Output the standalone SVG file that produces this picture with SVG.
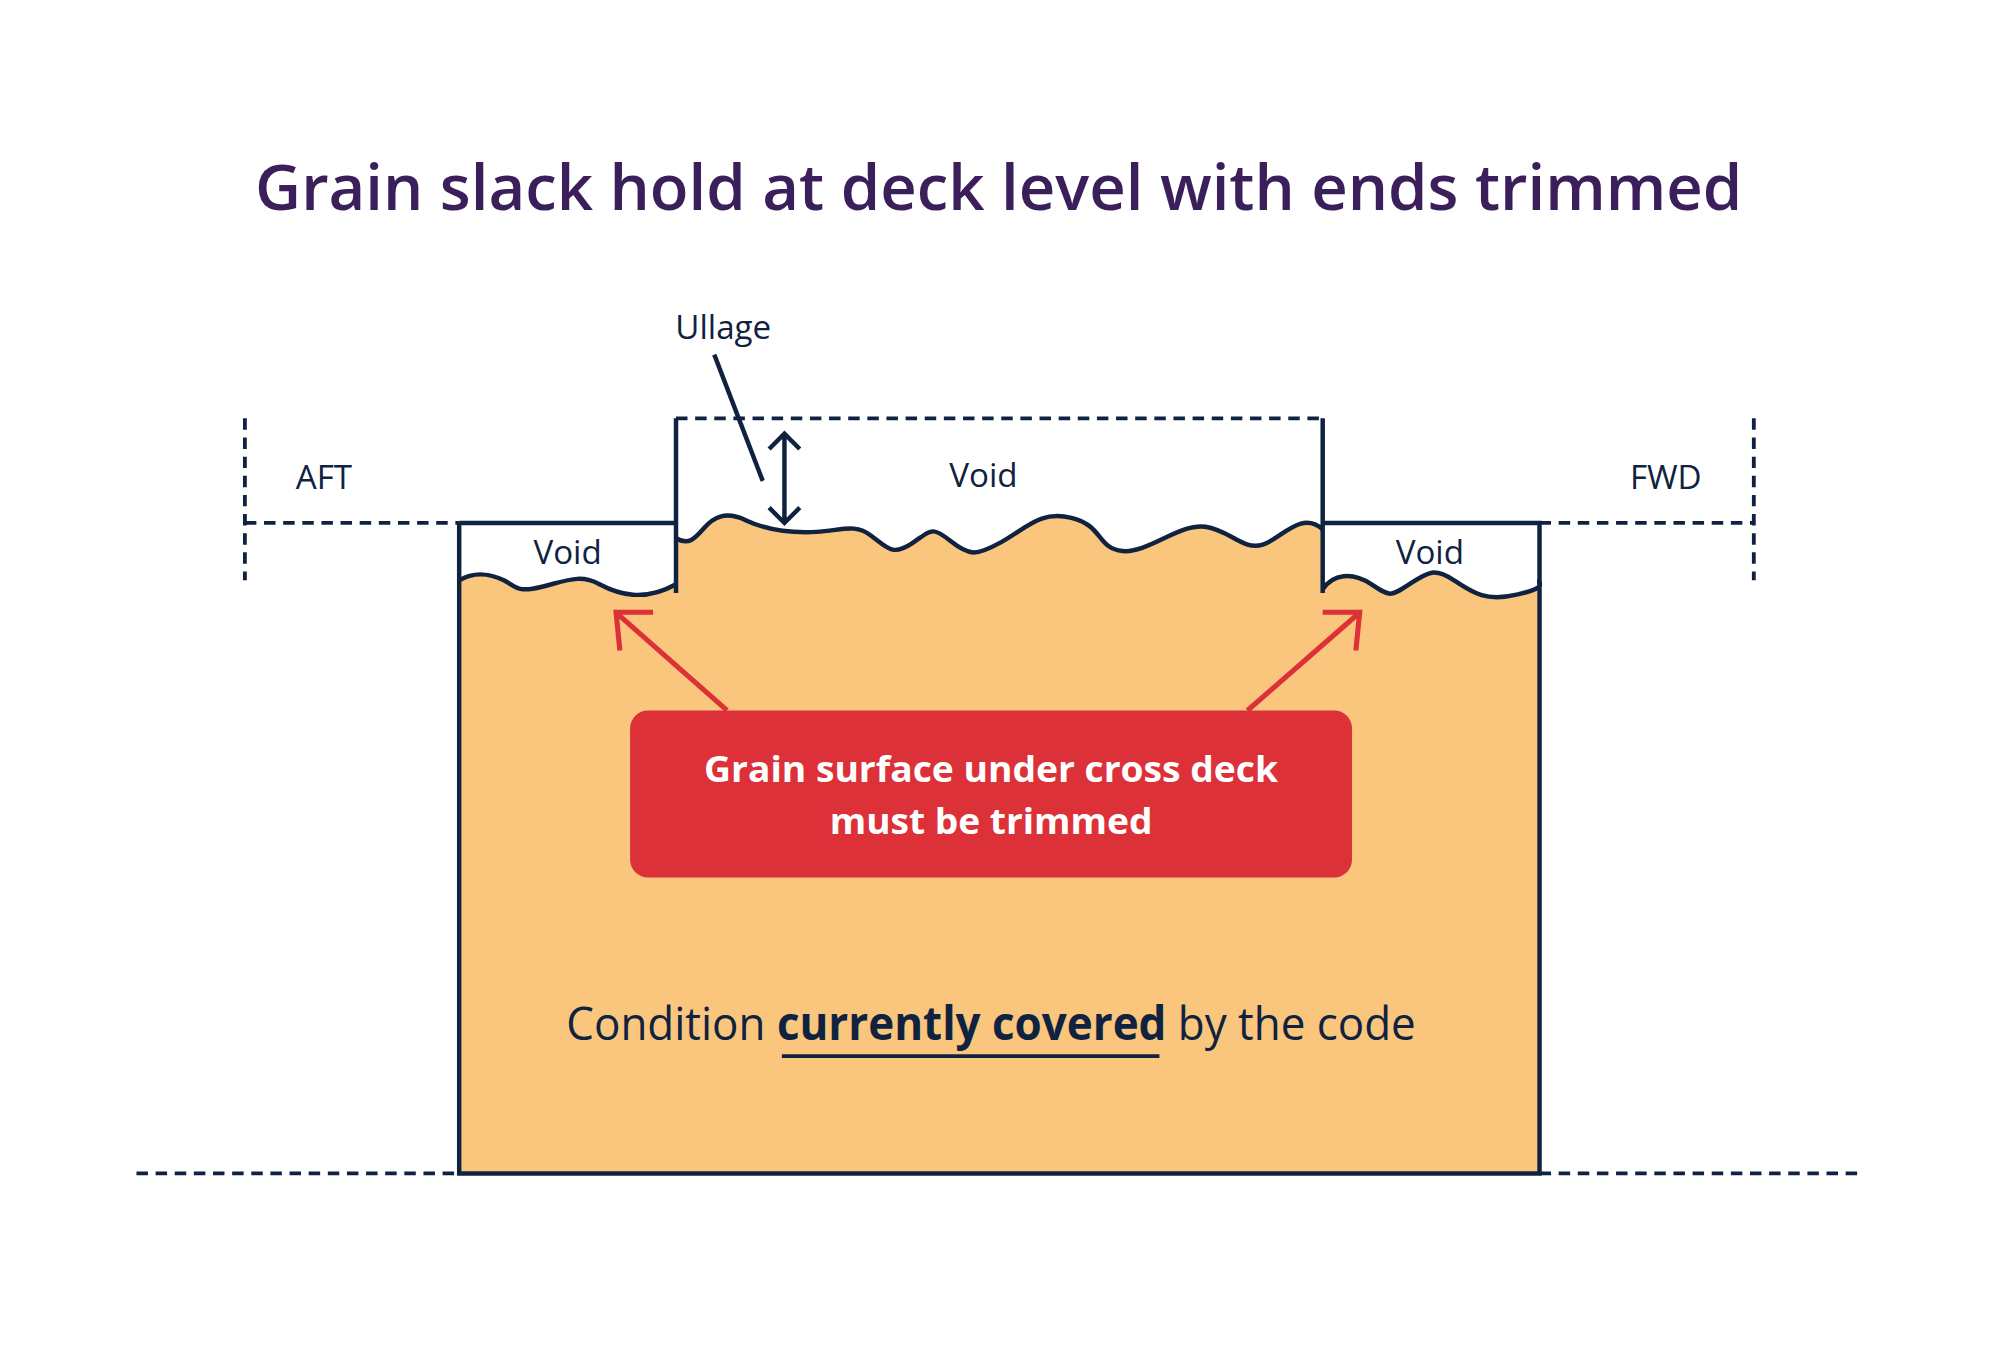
<svg xmlns="http://www.w3.org/2000/svg" width="2000" height="1363" viewBox="0 0 2000 1363">
<style>
.dk{fill:none;stroke:#0f2340;stroke-width:3.5}
.dash{fill:none;stroke:#0f2340;stroke-width:3;stroke-dasharray:9 6}
.lbl{font-family:"Open Sans","Liberation Sans",sans-serif;font-size:26px;fill:#0f2340;text-anchor:middle}
.red{fill:none;stroke:#dc3139;stroke-width:4}
</style>
<rect width="2000" height="1363" fill="#fff"/>
<g transform="scale(1.2755)">
<text x="783" y="165" font-family="Open Sans,Liberation Sans,sans-serif" font-size="50" font-weight="600" fill="#3a1f5a" text-anchor="middle" textLength="1166" lengthAdjust="spacingAndGlyphs">Grain slack hold at deck level with ends trimmed</text>
<g id="grain">
<path fill="#fac57c" d="M360,455 C372,448 385,450 395,455 S405,465 425,460 S455,450 470,458 S505,472 530,458 L530,422 C540,428 545,422 552,414 S568,400 585,408 S620,418 640,417 S670,410 683,420 S700,436 715,426 S730,412 745,424 S765,436 785,425 S815,400 840,406 S860,430 880,432 S925,410 945,413 S975,432 990,427 S1020,400 1037,415 L1037,462 C1045,450 1060,448 1075,458 S1090,468 1105,458 S1125,445 1140,455 S1165,472 1190,466 S1205,458 1207,455 L1207,920 L360,920 Z"/>
<path class="dk" d="M360,455 C372,448 385,450 395,455 S405,465 425,460 S455,450 470,458 S505,472 530,458"/>
<path class="dk" d="M530,422 C540,428 545,422 552,414 S568,400 585,408 S620,418 640,417 S670,410 683,420 S700,436 715,426 S730,412 745,424 S765,436 785,425 S815,400 840,406 S860,430 880,432 S925,410 945,413 S975,432 990,427 S1020,400 1037,415"/>
<path class="dk" d="M1037,462 C1045,450 1060,448 1075,458 S1090,468 1105,458 S1125,445 1140,455 S1165,472 1190,466 S1205,458 1207,455"/>
</g>
<g id="hold">
<path class="dk" d="M360,410 H530 M530,465 V328 M1037,328 V465 M1037,410 H1207 V920 H360 V410"/>
<path class="dash" d="M530,328 H1037"/>
<path class="dash" d="M192,410 H360 M1207,410 H1375 M192,328 V455 M1375,328 V455 M107,920 H360 M1207,920 H1462"/>
</g>
<g id="labels">
<text class="lbl" x="254" y="383">AFT</text>
<text class="lbl" x="1306" y="383">FWD</text>
<text class="lbl" x="771" y="382">Void</text>
<text class="lbl" x="445" y="442">Void</text>
<text class="lbl" x="1121" y="442">Void</text>
<text class="lbl" x="567" y="266">Ullage</text>
</g>
<g id="connectors">
<path class="dk" stroke-width="2.5" d="M560,278 L598,377"/>
<path class="dk" stroke-width="2.5" d="M615,340 V410 M603,352 L615,340 L627,352 M603,398 L615,410 L627,398"/>
<path class="red" d="M570,557 L485,482 M512,480 H483 L486,510"/>
<path class="red" d="M978,557 L1064,482 M1037,480 H1066 L1063,510"/>
</g>
<g id="callout">
<rect x="494" y="557" width="566" height="131" rx="14" fill="#dc3139"/>
<text x="777" y="613" font-family="Open Sans,Liberation Sans,sans-serif" font-size="28" font-weight="700" fill="#fff" text-anchor="middle" textLength="450" lengthAdjust="spacingAndGlyphs">Grain surface under cross deck</text>
<text x="777" y="654" font-family="Open Sans,Liberation Sans,sans-serif" font-size="28" font-weight="700" fill="#fff" text-anchor="middle" textLength="253" lengthAdjust="spacingAndGlyphs">must be trimmed</text>
</g>
<g id="note">
<text x="777" y="815" font-family="Open Sans,Liberation Sans,sans-serif" font-size="36" fill="#0f2340" text-anchor="middle" textLength="666" lengthAdjust="spacingAndGlyphs">Condition <tspan font-weight="700">currently covered</tspan> by the code</text>
<path d="M613,828 H909" stroke="#0f2340" stroke-width="3"/>
</g>
</g>
</svg>
